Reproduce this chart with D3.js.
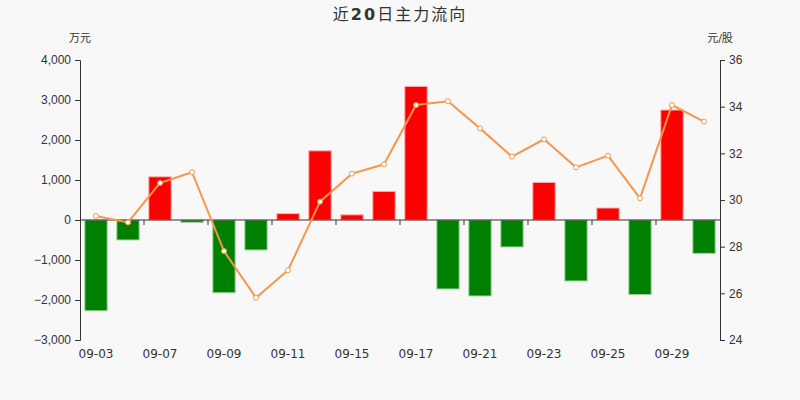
<!DOCTYPE html>
<html>
<head>
<meta charset="utf-8">
<script src="https://cdn.jsdelivr.net/npm/d3@7"></script>
<style>
  body { margin: 0; background: #f8f8f8; }
  svg { display: block; font-family: "DejaVu Sans", "Noto Sans CJK SC", sans-serif; }
</style>
</head>
<body>
<div id="chart"></div>
<script>
// dates (trading days)
const dates = ["09-03", "09-04", "09-07", "09-08", "09-09", "09-10", "09-11", "09-14", "09-15", "09-16",
    "09-17", "09-18", "09-21", "09-22", "09-23", "09-24", "09-25", "09-28", "09-29", "09-30"];
// main net inflow, 万元
const flows = [-2270, -500, 1080, -60, -1820, -750, 160, 1730, 130, 715,
    3340, -1725, -1900, -675, 940, -1525, 300, -1865, 2750, -835];
// close price, 元/股
const prices = [29.31, 29.04, 30.73, 31.19, 27.81, 25.81, 26.99, 29.93, 31.13, 31.53,
    34.07, 34.23, 33.07, 31.86, 32.6, 31.4, 31.9, 30.07, 34.07, 33.36];
const flowTicks = [-3000, -2000, -1000, 0, 1000, 2000, 3000, 4000];
const priceTicks = [24, 26, 28, 30, 32, 34, 36];

const width = 800;
const height = 400;
const margin = { top: 60, right: 80, bottom: 60, left: 80 };

const svg = d3.select("#chart")
    .append("svg")
    .attr("width", width)
    .attr("height", height);

svg.append("rect")
    .attr("width", width)
    .attr("height", height)
    .attr("fill", "#f8f8f8");

// scales
const x = d3.scaleBand()
    .domain(dates)
    .range([margin.left, width - margin.right])
    .paddingInner(0.3)
    .paddingOuter(0.15);

const step = x.step();

const yFlow = d3.scaleLinear()
    .domain([-3000, 4000])
    .range([height - margin.bottom, margin.top]);

const yPrice = d3.scaleLinear()
    .domain([24, 36])
    .range([height - margin.bottom, margin.top]);

// title
const title = svg.append("text")
    .attr("x", width / 2)
    .attr("y", 20)
    .attr("text-anchor", "middle")
    .attr("fill", "#333")
    .style("font-size", "16px")
    .style("letter-spacing", "2px");
title.append("tspan").text("近");
title.append("tspan").attr("font-weight", "bold").text("20");
title.append("tspan").text("日主力流向");

// unit labels
svg.append("text")
    .attr("x", margin.left)
    .attr("y", 42)
    .attr("text-anchor", "middle")
    .attr("fill", "#333")
    .style("font-size", "11px")
    .text("万元");

svg.append("text")
    .attr("x", width - margin.right)
    .attr("y", 42)
    .attr("text-anchor", "middle")
    .attr("fill", "#333")
    .style("font-size", "11px")
    .text("元/股");

// left axis
const leftAxis = svg.append("g")
    .attr("transform", `translate(${margin.left}, 0)`)
    .call(d3.axisLeft(yFlow).tickValues(flowTicks).tickSize(5).tickPadding(4).tickFormat(d3.format(",")));

// right axis
const rightAxis = svg.append("g")
    .attr("transform", `translate(${width - margin.right}, 0)`)
    .call(d3.axisRight(yPrice).tickValues(priceTicks).tickSize(5).tickPadding(4));

[leftAxis, rightAxis].forEach(g => {
    g.select(".domain").attr("stroke", "#333");
    g.selectAll(".tick line").attr("stroke", "#333");
    g.selectAll(".tick text").attr("fill", "#333").style("font-size", "12px");
});

// bars
svg.selectAll(".bar")
    .data(flows)
    .enter()
    .append("rect")
    .attr("class", "bar")
    .attr("x", (d, i) => x(dates[i]))
    .attr("y", d => yFlow(Math.max(0, d)))
    .attr("width", x.bandwidth())
    .attr("height", d => Math.abs(yFlow(d) - yFlow(0)))
    .attr("fill", d => d >= 0 ? "#ff0000" : "#008000")
    .attr("stroke", d => d >= 0 ? "#ffb0b0" : "#a8d8a8")
    .attr("stroke-width", 1);

// zero line with category ticks
const zeroY = yFlow(0);
svg.append("line")
    .attr("x1", margin.left)
    .attr("x2", width - margin.right)
    .attr("y1", zeroY)
    .attr("y2", zeroY)
    .attr("stroke", "#333");

const tickIdx = d3.range(2, dates.length, 2);
svg.selectAll(".xtick")
    .data(tickIdx)
    .enter()
    .append("line")
    .attr("x1", i => x(dates[i]) - step * x.paddingInner() / 2)
    .attr("x2", i => x(dates[i]) - step * x.paddingInner() / 2)
    .attr("y1", zeroY)
    .attr("y2", zeroY + 5)
    .attr("stroke", "#333");

// date labels
svg.selectAll(".xlabel")
    .data(d3.range(0, dates.length, 2))
    .enter()
    .append("text")
    .attr("x", i => x(dates[i]) + x.bandwidth() / 2)
    .attr("y", height - margin.bottom + 18)
    .attr("text-anchor", "middle")
    .attr("fill", "#333")
    .style("font-size", "12px")
    .text(i => dates[i]);

// price line
const line = d3.line()
    .x((d, i) => x(dates[i]) + x.bandwidth() / 2)
    .y(d => yPrice(d));

svg.append("path")
    .datum(prices)
    .attr("d", line)
    .attr("fill", "none")
    .attr("stroke", "#f7964a")
    .attr("stroke-width", 2);

svg.selectAll(".pt")
    .data(prices)
    .enter()
    .append("circle")
    .attr("cx", (d, i) => x(dates[i]) + x.bandwidth() / 2)
    .attr("cy", d => yPrice(d))
    .attr("r", 2.5)
    .attr("fill", "#fff")
    .attr("stroke", "#f7964a")
    .attr("stroke-width", 1);
</script>
</body>
</html>
